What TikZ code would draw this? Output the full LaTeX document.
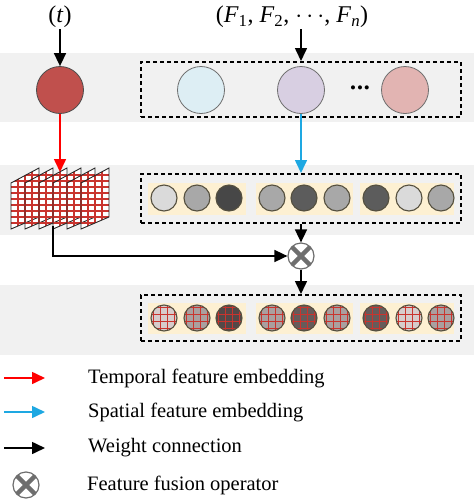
\documentclass[tikz,border=0pt]{standalone}
\usepackage{fontspec}
\setmainfont{Liberation Serif}
\usetikzlibrary{arrows.meta,positioning}

\definecolor{bandgray}{HTML}{F1F1F1}
\definecolor{tempred}{HTML}{C0504D}
\definecolor{spblue}{HTML}{1EA8E2}
\definecolor{beige}{HTML}{FDF0D2}
\definecolor{gridred}{HTML}{C9342E}
\definecolor{fusegray}{HTML}{6E6E6E}
\definecolor{ballline}{HTML}{55503F}
\definecolor{lg}{HTML}{DADADA}
\definecolor{mg}{HTML}{A8A8A8}
\definecolor{dg}{HTML}{474747}
\definecolor{dgb}{HTML}{5C5C5C}
\definecolor{skyfill}{HTML}{DDEEF4}
\definecolor{lavfill}{HTML}{D8CFE2}
\definecolor{rosefill}{HTML}{E2B4B2}

\tikzset{
  band/.style={fill=bandgray,draw=none},
  featbox/.style={draw,line width=2pt,dash pattern=on 4pt off 3pt,inner sep=0pt,minimum width=320pt},
  group/.style={fill=beige,draw=none,inner sep=0pt,minimum height=32pt},
  inball/.style={circle,draw=fusegray,line width=0.8pt,minimum size=47pt,inner sep=0pt},
  ball/.style={circle,draw=ballline,line width=1.1pt,minimum size=26pt,inner sep=0pt},
  gball/.style={ball,path picture={
    \foreach \d in {-10.5,-3.5,3.5,10.5}{
      \draw[gridred,line width=1pt] ([xshift=\d pt]path picture bounding box.north) -- ([xshift=\d pt]path picture bounding box.south)
        ([yshift=\d pt]path picture bounding box.west) -- ([yshift=\d pt]path picture bounding box.east);}}},
  fusion/.style={circle,draw=fusegray,line width=1.2pt,fill=white,minimum size=26pt,inner sep=0pt,
    path picture={\draw[fusegray,line width=4.5pt]
      (path picture bounding box.north west) -- (path picture bounding box.south east)
      (path picture bounding box.north east) -- (path picture bounding box.south west);}},
  wconn/.style={-{Triangle[length=13pt,width=12pt]},line width=1.6pt},
  tconn/.style={wconn,red},
  sconn/.style={wconn,spblue},
  sheet/.style={draw=black!85,line width=0.9pt},
  gline/.style={gridred,line width=1.1pt},
  toplabel/.style={font=\fontsize{24}{27}\selectfont,inner sep=1pt},
  legtext/.style={anchor=west,font=\fontsize{20.5}{24}\selectfont,inner sep=0pt}
}

\begin{document}
\begin{tikzpicture}[x=1pt,y=-1pt]
\useasboundingbox (0,0) rectangle (474,499);

\fill[band] (0,53) rectangle (474,122);
\fill[band] (0,165) rectangle (474,235);
\fill[band] (0,285) rectangle (474,355);

\node[toplabel] (tlabel) at (60,17) {(\textit{t})};
\node[toplabel] (flabel) at (292,17) {(\textit{F}\textsubscript{1}, \textit{F}\textsubscript{2}, $\cdots$, \textit{F}\textsubscript{\textit{n}})};

\node[inball,draw=black!70,fill=tempred] (tnode) at (60,90) {};
\node[featbox,minimum height=55pt] (spbox) at (301,89.5) {};
\node[inball,fill=skyfill] (s1) at (201,90) {};
\node[inball,fill=lavfill] (s2) at (301,90) {};
\node[font=\fontsize{17}{17}\selectfont] (sdots) at (360,90) {•\kern1pt•\kern1pt•};
\node[inball,fill=rosefill] (s3) at (405,90) {};

\draw[wconn] (tlabel.south) -- (tnode.north);
\draw[wconn] (flabel.south -| spbox.north) -- (spbox.north);

\foreach \i in {0,...,5} {
  \pgfmathsetmacro\xa{11+14*\i}
  \pgfmathsetmacro\xb{\xa+28}
  \fill[white] (\xa,183) -- (\xb,168) -- (\xb,217) -- (\xa,229) -- cycle;
}
\foreach \i in {0,...,5} {
  \pgfmathsetmacro\xa{11+14*\i}
  \pgfmathsetmacro\xb{\xa+28}
  \begin{scope}
    \clip (\xa,183) -- (\xb,168) -- (\xb,217) -- (\xa,229) -- cycle;
    \foreach \y in {175,181,...,229} \draw[gline] (\xa,\y) -- (\xb,\y);
    \foreach \d in {7,14,21} \draw[gline] (\xa+\d,165) -- (\xa+\d,232);
  \end{scope}
  \draw[sheet] (\xa,183) -- (\xb,168) -- (\xb,217) -- (\xa,229) -- cycle;
}
\coordinate (stacktop) at (60,172);
\coordinate (stackbot) at (53,226);

\node[featbox,minimum height=49pt] (embbox) at (301,198.5) {};
\node[group,minimum width=98pt] (eg1) at (197,199) {};
\node[group,minimum width=97pt] (eg2) at (304.5,199) {};
\node[group,minimum width=94pt] (eg3) at (407,199) {};

\node[featbox,minimum height=46pt] (fusedbox) at (301,318) {};
\node[group,minimum width=98pt,minimum height=31pt] (fg1) at (197,318.5) {};
\node[group,minimum width=97pt,minimum height=31pt] (fg2) at (304.5,318.5) {};
\node[group,minimum width=94pt,minimum height=31pt] (fg3) at (407,318.5) {};

\foreach \x/\c [count=\k] in {164/lg,197/mg,229/dg,272/mg,304/dgb,337/mg,376/dgb,409/lg,441/mg} {
  \node[ball,fill=\c] (e\k) at (\x,198) {};
  \node[gball,fill=\c!90!tempred] (f\k) at (\x,318) {};
}

\node[fusion] (fuse) at (301,256) {};

\draw[tconn] (tnode.south) -- (stacktop);
\draw[sconn] (s2.south) -- (embbox.north);
\draw[wconn] (stackbot) |- (fuse.west);
\draw[wconn] (embbox.south) -- (fuse.north);
\draw[wconn] (fuse.south) -- (fusedbox.north);

\coordinate (lt0) at (4,378);
\coordinate (lt1) at (45,378);
\coordinate (ls0) at (4,412);
\coordinate (ls1) at (45,412);
\coordinate (lw0) at (4,448);
\coordinate (lw1) at (45,448);
\draw[tconn] (lt0) -- (lt1);
\draw[sconn] (ls0) -- (ls1);
\draw[wconn] (lw0) -- (lw1);
\node[fusion] (lfuse) at (26,485) {};

\node[legtext] (ltt) at (88,378) {Temporal feature embedding};
\node[legtext] (lst) at (88,412) {Spatial feature embedding};
\node[legtext] (lwt) at (88,448) {Weight connection};
\node[legtext] (lft) at (87,485) {Feature fusion operator};
\end{tikzpicture}
\end{document}
